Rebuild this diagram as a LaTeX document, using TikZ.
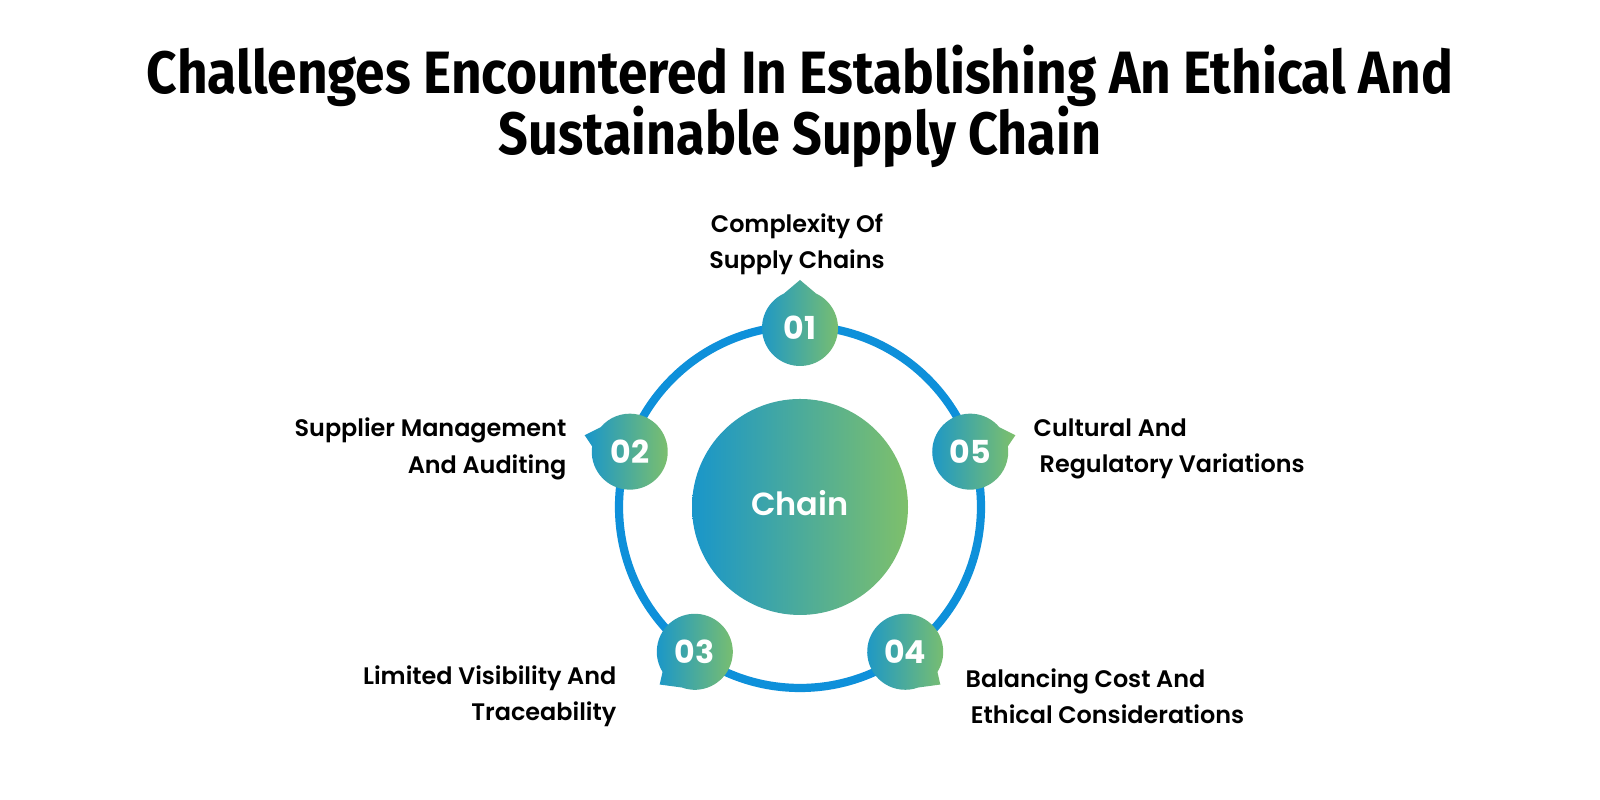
\documentclass[tikz,border=0pt]{standalone}
\usepackage{fontspec}
\usepackage{graphicx}
\setmainfont{Poppins}
\newfontfamily\titlefont{Fira Sans Bold}
\newfontfamily\labelfont{Poppins SemiBold}
\newfontfamily\numfont{Poppins Bold}

\definecolor{ringblue}{HTML}{0E90DA}
\definecolor{gradblue}{HTML}{1996CA}
\definecolor{gradgreen}{HTML}{7EC06B}

\tikzset{
  badgefill/.style = {left color = gradblue, right color = gradgreen, draw = none},
  badgenum/.style = {text = white, inner sep = 0pt,
    font = \numfont\fontsize{9}{10}\selectfont},
  challenge/.style = {inner sep = 0pt,
    font = \labelfont\fontsize{6.8}{10.3}\selectfont},
  chaincore/.style = {circle, minimum size = 21.6mm, inner sep = 0pt,
    left color = gradblue, right color = gradgreen, text = white,
    font = \labelfont\fontsize{9.1}{11}\selectfont}
}

% badge: name, ring angle, tail from, tail to, tip angle, number
\newcommand{\badge}[6]{%
  \coordinate (#1) at ([shift={(#2:179)}]ctr);
  \shade[badgefill] ([shift={(#4:38)}]#1)
    arc[start angle = #4, end angle = #3+360, radius = 38]
    -- ([shift={(#5:48)}]#1) -- cycle;
  \node[badgenum] (n#1) at (#1) {#6};
}

\begin{document}
\begin{tikzpicture}[x = 0.1mm, y = 0.1mm]
  \useasboundingbox[fill = white] (0,0) rectangle (1600,800);
  \coordinate (ctr) at (800,293);

  % title
  \node[anchor = base, inner sep = 0pt, font = \titlefont\fontsize{17}{20}\selectfont]
    (title1) at (800,706) {\resizebox{13.06cm}{\height}{Challenges Encountered In Establishing An Ethical And}};
  \node[anchor = base, inner sep = 0pt, font = \titlefont\fontsize{17}{20}\selectfont]
    (title2) at (800,645) {\resizebox{6.02cm}{\height}{Sustainable Supply Chain}};

  % ring and core
  \draw[ringblue, line width = 0.82mm] (ctr) circle[radius = 181];
  \node[chaincore] (core) at (ctr) {\raisebox{2.5pt}{Chain}};

  % badges
  \badge{b1}{90}{65}{115}{90}{01}
  \badge{b2}{162}{140}{172}{160}{02}
  \badge{b3}{234}{212}{250}{223}{03}
  \badge{b4}{306}{290}{328}{317}{04}
  \badge{b5}{18}{8}{40}{20}{05}

  % labels
  \node[challenge, align = center] (l1) at (797,556)
    {Complexity Of\\Supply Chains};
  \node[challenge, align = right, anchor = east] (l2) at (567,351)
    {Supplier Management\\And Auditing};
  \node[challenge, align = right, anchor = east] (l3) at (617,104)
    {Limited Visibility And\\Traceability};
  \node[challenge, align = left, anchor = west] (l4) at (965,104)
    {Balancing Cost And\\\hspace{1.5pt}Ethical Considerations};
  \node[challenge, align = left, anchor = west] (l5) at (1033,351)
    {Cultural And\\\hspace{1.7pt}Regulatory Variations};
\end{tikzpicture}
\end{document}
